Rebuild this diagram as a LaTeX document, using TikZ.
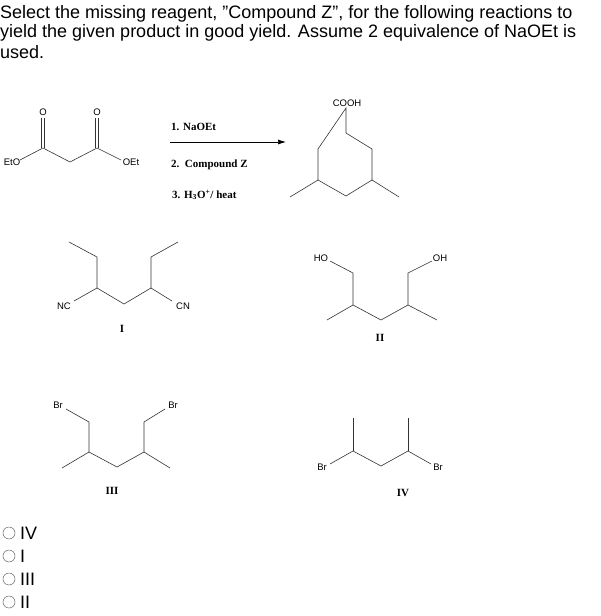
\documentclass[tikz,border=0pt]{standalone}
\usepackage{fontspec}
\setmainfont{Liberation Sans}
\newfontfamily\serifb{Liberation Serif}
\usetikzlibrary{arrows.meta}
\tikzset{bond/.style={line width=0.6bp,draw=black!80},
 atom/.style={inner sep=0pt,font=\fontsize{9.5bp}{10bp}\selectfont},
 rlab/.style={inner sep=0pt,anchor=west,font=\serifb\bfseries\fontsize{11bp}{12bp}\selectfont},
 cname/.style={inner sep=0pt,font=\serifb\bfseries\fontsize{11bp}{12bp}\selectfont},
 qtext/.style={inner sep=0pt,anchor=west,font=\fontsize{18bp}{21bp}\selectfont},
 radio/.style={circle,draw=black!60,line width=0.5bp,minimum size=12bp,inner sep=0pt}}
\begin{document}
\begin{tikzpicture}[x=1bp,y=-1bp]
\useasboundingbox (0,0) rectangle (601,616);
\node[qtext] (q1) at (0,14) {Select the missing reagent, \symbol{34}Compound Z\symbol{34}, for the following reactions to};
\node[qtext] (q2) at (0,33) {yield the given product in good yield. Assume 2 equivalence of NaOEt is};
\node[qtext] (q3) at (0,52) {used.};
% malonate
\node[atom] (eto) at (12,162) {EtO};
\node[atom] (oet) at (131,162) {OEt};
\node[atom] (o1) at (43,112) {O};
\node[atom] (o2) at (97,112) {O};
\draw[bond] (20,160) -- (43,148) -- (70,162) -- (97,148) -- (121,160);
\draw[bond] (41.5,148) -- (41.5,118) (44.5,148) -- (44.5,118);
\draw[bond] (95.5,148) -- (95.5,118) (98.5,148) -- (98.5,118);
% arrow
\coordinate (a1) at (170,142); \coordinate (a2) at (286,142);
\draw[line width=0.7bp,-{Latex[length=8bp,width=5bp]}] (a1) -- (a2);
\node[rlab] (r1) at (171,127) {1. NaOEt};
\node[rlab] (r2) at (171,165) {2.\ \ Compound Z};
\node[rlab] (r3) at (172,195) {3. H\textsubscript{3}O\textsuperscript{+}/ heat};
% product
\node[atom] (cooh) at (347,103) {COOH};
\draw[bond] (346,108) -- (346,133) -- (372,149) -- (372,180) -- (346,196) -- (318,180) -- (318,149) -- cycle;
\draw[bond] (318,180) -- (290,197) (372,180) -- (399,197);
% I
\draw[bond] (69,242) -- (97,257) -- (97,288) -- (124,304) -- (151,288) -- (151,257) -- (178,242);
\draw[bond] (97,288) -- (74,301) (151,288) -- (172,301);
\node[atom] (nc) at (64,306) {NC};
\node[atom] (cn) at (183,306) {CN};
\node[cname] (lI) at (122,329) {I};
% II
\node[atom] (ho) at (321,258) {HO};
\node[atom] (oh) at (440,258) {OH};
\draw[bond] (330,261) -- (353,273) -- (353,305) -- (381,320) -- (408,305) -- (408,273) -- (432,261);
\draw[bond] (353,305) -- (327,320) (408,305) -- (437,320);
\node[cname] (lII) at (380,338) {II};
% III
\node[atom] (br1) at (58,405) {Br};
\node[atom] (br2) at (173,405) {Br};
\draw[bond] (66,409) -- (89,422) -- (89,452) -- (117,467) -- (144,452) -- (144,422) -- (165,409);
\draw[bond] (89,452) -- (62,468) (144,452) -- (170,468);
\node[cname] (lIII) at (112,491) {III};
% IV
\node[atom] (br3) at (322,467) {Br};
\node[atom] (br4) at (438,467) {Br};
\draw[bond] (330,464) -- (353,451) -- (381,466) -- (408,451) -- (431,464);
\draw[bond] (353,451) -- (353,418) (408,451) -- (408,418);
\node[cname] (lIV) at (403,493) {IV};
% options
\node[radio] (c1) at (9,533) {}; \node[qtext] (t1) at (20,533) {IV};
\node[radio] (c2) at (9,556) {}; \node[qtext] (t2) at (20,556) {I};
\node[radio] (c3) at (9,579) {}; \node[qtext] (t3) at (20,579) {III};
\node[radio] (c4) at (9,602) {}; \node[qtext] (t4) at (20,602) {II};
\end{tikzpicture}
\end{document}
